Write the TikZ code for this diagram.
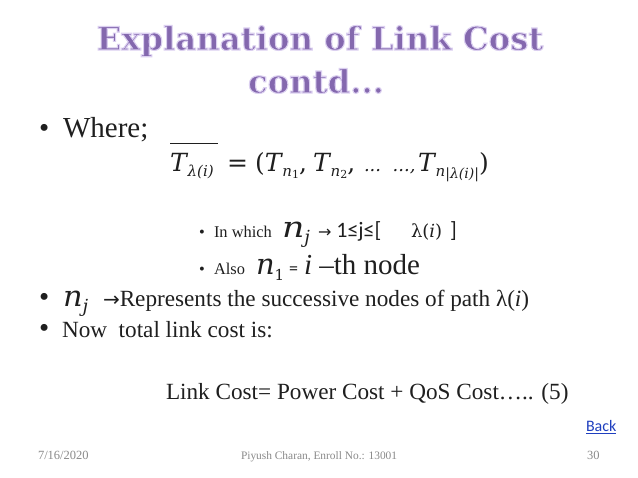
\documentclass[tikz,border=0pt]{standalone}
\usepackage{fontspec}
\setmainfont{Liberation Serif}
\newfontfamily\titlefont{DejaVu Serif}[BoldFont={DejaVu Serif Bold}]
\newfontfamily\mathish{DejaVu Serif}
\newfontfamily\calib{Carlito}
\newfontfamily\dejavu{DejaVu Sans}
\definecolor{titlecol}{HTML}{8468AE}
\definecolor{footcol}{HTML}{8A8A8A}
\definecolor{linkcol}{HTML}{1F3FBF}
\newcommand{\px}[1]{\fontsize{#1}{#1}\selectfont}
\newcommand{\halo}[1]{\special{pdf:code 2 Tr 1.1 w 0.86 0.81 0.94 RG}#1\special{pdf:code 0 Tr}}
\newcommand{\nsub}[2]{{\mathish\itshape\px{29}\scalebox{#1}[1]{n}\raisebox{-6pt}{\px{18}#2}}}
\newcommand{\Tsub}[2]{{\mathish\itshape T\hspace{#2}\raisebox{-5pt}{\px{15}#1}}}
\newcommand{\nn}[1]{n\raisebox{-2pt}{\px{11}\upshape #1}}
\tikzset{
  x=1pt,y=-1pt,
  txt/.style={anchor=base west,inner sep=0pt,outer sep=0pt,text=black!88},
  titletxt/.style={anchor=base,inner sep=0pt,font=\titlefont\bfseries\px{32.3},text=titlecol},
  big/.style={txt,font=\px{29}},
  mid/.style={txt,font=\px{23.2}},
  small/.style={txt,font=\px{16.4}},
  formula/.style={txt,font=\mathish\px{25}},
  foot/.style={txt,font=\px{11.4},text=footcol}
}
\begin{document}
\begin{tikzpicture}
\useasboundingbox (0,0) rectangle (638,478);
\fill[white] (0,0) rectangle (638,478);
\node[titletxt] (t1) at (320,50) {\halo{Explanation of Link Cost}};
\node[titletxt] (t2) at (316,93) {\halo{contd...}};
\node[big] (b1) at (39,138) {•};
\node[big] (where) at (63,138) {Where;};
\node[formula] (tbar) at (170,172) {\Tsub{λ(\textit{i})}{1pt}};
\coordinate (barL) at (170,143.5);
\coordinate (barR) at (218,143.5);
\draw[line width=1pt,black!88] (barL) -- (barR);
\node[formula] (equals) at (227,172) {=};
\node[formula] (paren) at (255,172) {(\Tsub{\nn{1}}{1pt},};
\node[formula] (t2nd) at (313,172) {\Tsub{\nn{2}}{1pt},};
\node[txt,font=\mathish\itshape\px{18}] (dots) at (364,172) {...\ \ ...,};
\node[formula] (tlast) at (418,172) {\Tsub{n\raisebox{-2pt}{\px{14}|λ(\textit{i})|}}{1pt})};
\node[small] (b2) at (199,238) {•};
\node[small] (inwhich) at (214,238) {In which};
\node[txt] (nj1) at (282,238) {\nsub{1.2}{j}};
\node[txt,font=\calib\px{22}] (range) at (318,238) {{\dejavu\px{16}→} 1≤j≤[};
\node[txt,font=\mathish\px{18}] (lam) at (411,238) {λ(\textit{i})};
\node[txt,font=\calib\px{22}] (close) at (450,238) {]};
\node[small] (b3) at (199,275) {•};
\node[small] (also) at (214,275) {Also};
\node[txt] (n1) at (256,275) {{\mathish\itshape\px{29}n\raisebox{-6pt}{\upshape\px{15}1}}};
\node[txt,font=\calib\px{18}] (eq) at (289,275) {=};
\node[big] (ith) at (304,275) {\textit{i} –th node};
\node[big] (b4) at (39,307) {•};
\node[txt] (nj2) at (63,307) {\nsub{1.05}{j}};
\node[mid] (rep) at (103,307) {{\dejavu\px{20}→}Represents the successive nodes of path λ(\textit{i})};
\node[big] (b5) at (39,338) {•};
\node[mid] (now) at (62,338) {Now\ \ total link cost is:};
\node[mid] (cost) at (166,400) {Link Cost= Power Cost + QoS Cost….. (5)};
\node[txt,font=\calib\px{16},text=linkcol] (back) at (586,432) {\underline{Back}};
\node[foot,font=\px{12.5}] (date) at (38,460) {7/16/2020};
\node[foot] (name) at (241,460) {Piyush Charan, Enroll No.: 13001};
\node[foot,font=\px{12.5}] (num) at (587,460) {30};
\end{tikzpicture}
\end{document}
